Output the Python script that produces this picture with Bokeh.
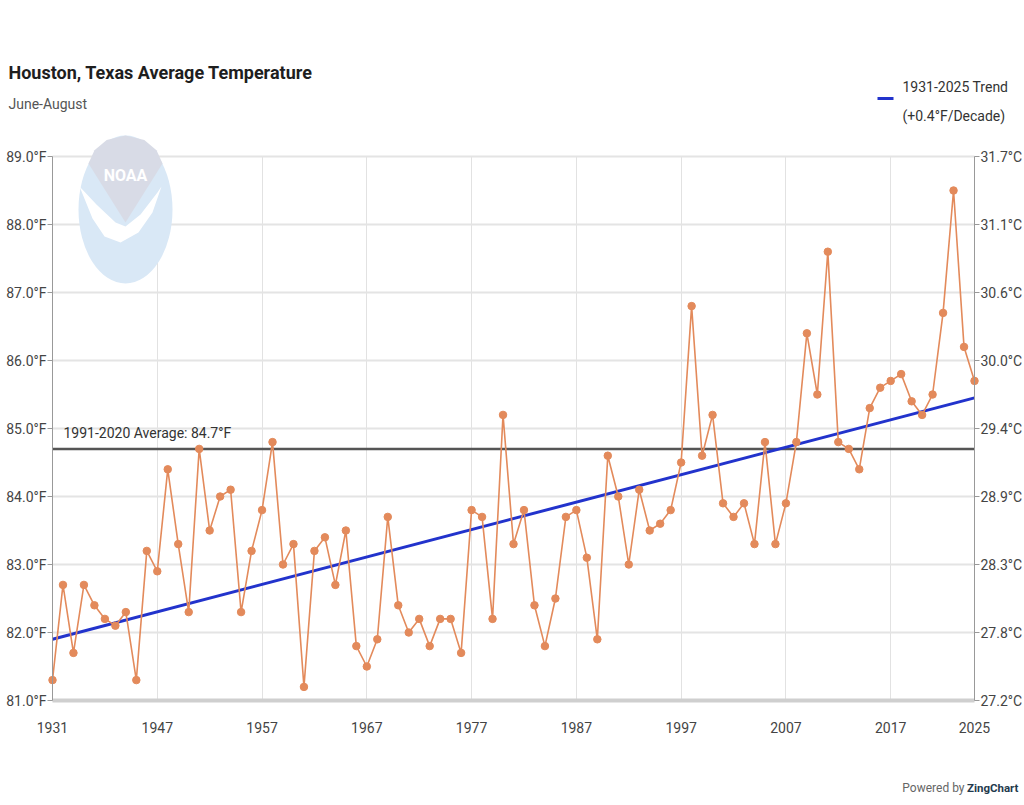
from bokeh.plotting import figure
from bokeh.models import (Range1d, LinearAxis, FixedTicker, PrintfTickFormatter, Label)
from bokeh.embed import file_html
from bokeh.resources import INLINE

# ---------------- data ----------------
years = list(range(1931, 1941)) + list(range(1947, 2026))
temps_f = [81.3, 82.7, 81.7, 82.7, 82.4, 82.2, 82.1, 82.3, 81.3, 83.2,
           82.9, 84.4, 83.3, 82.3, 84.7, 83.5, 84.0, 84.1, 82.3, 83.2,
           83.8, 84.8, 83.0, 83.3, 81.2, 83.2, 83.4, 82.7, 83.5, 81.8,
           81.5, 81.9, 83.7, 82.4, 82.0, 82.2, 81.8, 82.2, 82.2, 81.7,
           83.8, 83.7, 82.2, 85.2, 83.3, 83.8, 82.4, 81.8, 82.5, 83.7,
           83.8, 83.1, 81.9, 84.6, 84.0, 83.0, 84.1, 83.5, 83.6, 83.8,
           84.5, 86.8, 84.6, 85.2, 83.9, 83.7, 83.9, 83.3, 84.8, 83.3,
           83.9, 84.8, 86.4, 85.5, 87.6, 84.8, 84.7, 84.4, 85.3, 85.6,
           85.7, 85.8, 85.4, 85.2, 85.5, 86.7, 88.5, 86.2, 85.7]
trend_f = [81.9, 85.45]          # trend line value at first and last year
average_f = 84.7                 # 1991-2020 average
f_ticks = [81, 82, 83, 84, 85, 86, 87, 88, 89]
x_tick_index = [0, 10, 20, 30, 40, 50, 60, 70, 80, 88]

title_text = "Houston, Texas Average Temperature"
subtitle_text = "June-August"
trend_lines = ["1931-2025 Trend", "(+0.4°F/Decade)"]
avg_label = "1991-2020 Average: 84.7°F"

FONT = "Roboto"
ORANGE = "#E38A5B"
BLUE = "#2233CC"

idx = list(range(len(years)))

def f2c(f):
    return (f - 32.0) * 5.0 / 9.0

# ---------------- layout geometry (pixels on the canvas) ----------------
W, H = 1024, 805
PL, PR, PT, PB = 52, 974, 156, 700        # plotting area edges
n = len(years) - 1
ppx = (PR - PL) / n                        # pixels per index step
ppy = (PB - PT) / (f_ticks[-1] - f_ticks[0])
x0 = -PL / ppx
x1 = n + (W - PR) / ppx
y1 = f_ticks[-1] + PT / ppy
y0 = f_ticks[0] - (H - PB) / ppy

def X(px):
    return x0 + px / ppx
def Y(py):
    return y1 - py / ppy

p = figure(width=W, height=H, output_backend="svg", toolbar_location=None,
           x_range=Range1d(x0, x1), y_range=Range1d(y0, y1), min_border=0)
p.outline_line_color = None

# grids, limited to the plotting area
p.xgrid.ticker = FixedTicker(ticks=x_tick_index)
p.ygrid.ticker = FixedTicker(ticks=f_ticks)
p.xgrid.bounds = (0, n)
p.ygrid.bounds = (f_ticks[0], f_ticks[-1])
p.xgrid.cross_bounds = (f_ticks[0], f_ticks[-1])
p.ygrid.cross_bounds = (0, n)
p.xgrid.grid_line_color = "#e2e2e2"
p.xgrid.grid_line_width = 1
p.ygrid.grid_line_color = "#e4e4e4"
p.ygrid.grid_line_width = 1.8

# x axis
xa = p.xaxis[0]
xa.fixed_location = f_ticks[0]
xa.bounds = (0, n)
xa.ticker = FixedTicker(ticks=x_tick_index)
xa.major_label_overrides = {i: str(years[i]) for i in x_tick_index}
xa.axis_line_color = "#cfcfcf"
xa.axis_line_width = 4
xa.major_tick_line_color = None
xa.minor_tick_line_color = None
xa.major_label_standoff = 15
xa.major_label_text_font = FONT
xa.major_label_text_font_size = "14px"
xa.major_label_text_color = "#444444"

# left axis (°F)
ya = p.yaxis[0]
ya.fixed_location = 0
ya.bounds = (f_ticks[0], f_ticks[-1])
ya.ticker = FixedTicker(ticks=f_ticks)
ya.formatter = PrintfTickFormatter(format="%.1f°F")

# right axis (°C)
p.extra_y_ranges = {"c": Range1d(f2c(y0), f2c(y1))}
ra = LinearAxis(y_range_name="c", ticker=FixedTicker(ticks=[f2c(t) for t in f_ticks]),
                formatter=PrintfTickFormatter(format="%.1f°C"),
                fixed_location=n, bounds=(f2c(f_ticks[0]), f2c(f_ticks[-1])))
p.add_layout(ra, "right")
for ax in (ya, ra):
    ax.axis_line_color = "#999999"
    ax.major_tick_line_color = "#999999"
    ax.major_tick_out = 5
    ax.major_tick_in = 0
    ax.minor_tick_line_color = None
    ax.major_label_standoff = 1
    ax.major_label_text_font = FONT
    ax.major_label_text_font_size = "14px"
    ax.major_label_text_color = "#444444"

# NOAA watermark (decoration), shapes in units of the emblem's width/height
EW, EH = 94, 148
ECX, ECY = 125, 209
def ex(u):
    return X(ECX + u * EW)
def ey(v):
    return Y(ECY + v * EH)
p.ellipse(x=[ex(0)], y=[ey(0)], width=EW, height=EH, width_units="screen",
          height_units="screen", fill_color="#D9E8F6", line_color=None)
dome = [(-.394, -.311), (-.33, -.40), (-.2, -.47), (0, -.5), (.2, -.47),
        (.33, -.40), (.394, -.311), (0, .088)]
p.patch(x=[ex(u) for u, v in dome], y=[ey(v) for u, v in dome],
        fill_color="#D8DBE6", line_color=None)
gull = [(-.489, -.155), (-.309, -.034), (-.106, .088), (0, .115), (.16, .034),
        (.34, -.115), (.383, -.155), (.287, .02), (.138, .155), (-.053, .223),
        (-.223, .182), (-.351, .061)]
p.patch(x=[ex(u) for u, v in gull], y=[ey(v) for u, v in gull],
        fill_color="white", line_color=None)
p.add_layout(Label(x=ex(0), y=ey(-.23), text="NOAA", text_font=FONT,
                   text_font_style="bold", text_font_size="16px", text_color="white",
                   text_align="center", text_baseline="middle"))

# average line + label
p.segment(x0=[0], y0=[average_f], x1=[n], y1=[average_f], line_color="#555555",
          line_width=2.5)
p.add_layout(Label(x=X(63), y=average_f, y_offset=16, text=avg_label,
                   text_font=FONT, text_font_size="14px", text_color="#333333",
                   text_baseline="middle", text_align="left"))

# trend line
p.line(x=[idx[0], idx[-1]], y=trend_f, line_color=BLUE, line_width=3)

# series
p.line(x=idx, y=temps_f, line_color=ORANGE, line_width=1.6)
p.scatter(x=idx, y=temps_f, size=7.5, fill_color=ORANGE, line_color=ORANGE)

# title block
p.add_layout(Label(x=X(8), y=Y(72), text=title_text, text_font=FONT,
                   text_font_style="bold", text_font_size="18px", text_color="#1e1e1e",
                   text_baseline="middle", text_align="left"))
p.add_layout(Label(x=X(8), y=Y(103), text=subtitle_text, text_font=FONT,
                   text_font_size="14px", text_color="#555555",
                   text_baseline="middle", text_align="left"))

# legend
p.line(x=[X(877), X(893)], y=[Y(98), Y(98)], line_color=BLUE, line_width=3)
for k, t in enumerate(trend_lines):
    p.add_layout(Label(x=X(902), y=Y(86 + 29 * k), text=t, text_font=FONT,
                       text_font_size="14px", text_color="#333333",
                       text_baseline="middle", text_align="left"))

# credit
p.add_layout(Label(x=X(1018), y=Y(787), text="ZingChart", text_font=FONT,
                   text_font_style="bold", text_font_size="11.5px",
                   text_color="#1f3a4d", text_baseline="middle", text_align="right"))
p.add_layout(Label(x=X(964), y=Y(787), text="Powered by", text_font=FONT,
                   text_font_size="12px", text_color="#666666",
                   text_baseline="middle", text_align="right"))

open("out.html", "w").write(file_html(p, INLINE))
